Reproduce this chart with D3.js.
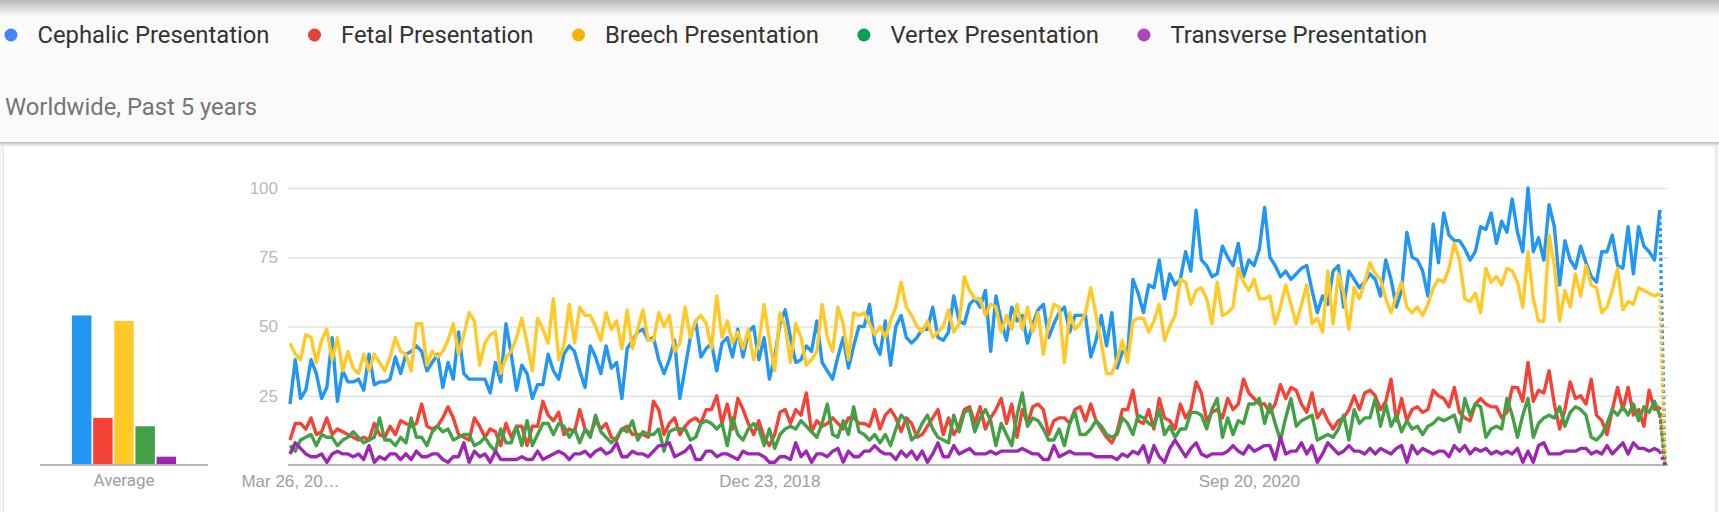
<!doctype html>
<html lang="en">
<head>
<meta charset="utf-8">
<title>Presentation search interest</title>
<script src="https://cdnjs.cloudflare.com/ajax/libs/d3/7.8.5/d3.min.js"></script>
<style>
  body { margin:0; background:#fff; font-family:Roboto, "Noto Sans", sans-serif; }
  svg { display:block; }
  .ylab text { fill:#b8b8b8; font-size:17px; }
  .xlab text { fill:#9e9e9e; font-size:17px; }
  .grid line { stroke:#e3e3e3; stroke-width:1.5; }
</style>
</head>
<body>
<svg width="1719" height="512"></svg>
<script>
// series (Google Trends, weekly, Mar 26 2017 -> Mar 27 2022)
const names = ["Cephalic Presentation","Fetal Presentation","Breech Presentation","Vertex Presentation","Transverse Presentation"];
const dotColors = ["#4285f4","#db4437","#f4b400","#0f9d58","#ab47bc"];
const lineColors = ["#2196f3","#f44336","#ffca28","#43a047","#9c27b0"];
const averages = [54,17,52,14,3];
const startWeek = new Date(2017,2,26);
const yTicks = [25,50,75,100];
const xTickWeeks = [0,91,182];
const xTickLabels = ["Mar 26, 20\u2026","Dec 23, 2018","Sep 20, 2020"];

const cephalic = [
  22,38,24,27,38,33,24,28,46,23,34,30,30,31,27,40,29,30,30,31,39,33,40,41,43,41,34,37,40,28,37,31,48,33,31,31,
  31,31,26,37,30,51,40,27,36,33,24,29,29,40,34,31,40,43,41,34,28,43,39,33,43,35,37,24,42,45,48,49,45,46,38,33,38,45,24,35,46,52,39,42,44,34,
  44,46,39,49,39,48,50,38,46,31,39,51,56,46,37,38,43,41,52,37,34,31,39,46,35,43,50,50,58,44,40,52,36,50,54,46,44,46,49,49,57,46,45,48,61,52,
  51,58,60,57,63,41,61,52,45,57,52,54,44,51,56,58,46,51,55,57,48,54,54,54,39,45,54,43,55,35,41,40,67,62,55,65,64,74,60,69,65,67,77,70,92,
  74,72,68,69,79,75,72,80,68,74,72,78,93,75,72,68,70,67,69,71,72,63,55,61,58,70,72,57,70,67,64,66,69,67,61,74,67,57,63,84,75,74,70,61,87,73,
  91,83,81,81,78,74,77,86,85,91,80,88,84,96,84,77,100,77,82,74,94,86,65,81,74,71,79,73,68,66,77,77,83,72,71,86,69,86,79,77,74,92,0
];
const fetal = [
  9,15,15,13,17,11,12,17,11,13,12,11,10,9,10,9,15,11,10,14,11,16,15,14,15,22,14,13,14,17,21,17,11,10,9,17,
  14,10,13,12,7,15,10,14,14,7,14,14,23,18,16,19,11,13,12,20,13,11,16,13,15,10,9,13,14,11,11,11,10,23,20,11,15,17,11,14,16,17,15,20,20,25,
  15,22,13,24,20,15,11,16,10,7,11,19,20,15,20,18,26,12,16,14,15,17,15,13,17,17,15,15,14,20,13,18,20,17,12,17,15,10,11,14,17,20,11,17,11,14,
  20,21,15,21,13,17,20,24,15,22,10,20,15,21,22,20,11,16,17,17,15,20,21,16,22,16,13,10,8,12,20,20,27,16,15,20,13,24,17,16,13,22,17,20,30,
  26,16,19,20,17,24,20,22,31,26,24,22,22,19,22,29,24,28,27,22,19,26,17,20,16,13,16,17,20,25,20,26,27,25,20,23,31,16,24,16,20,21,19,20,27,25,
  24,21,28,19,17,16,22,24,22,21,21,17,19,28,28,23,37,23,27,26,34,22,13,20,30,24,25,22,31,18,16,11,20,28,20,28,18,20,14,27,20,21,0
];
const breech = [
  44,40,38,47,46,37,45,49,38,46,34,41,35,33,40,34,40,37,34,39,46,41,40,34,51,51,36,41,39,41,45,51,40,47,55,52,
  36,44,47,48,33,39,41,46,53,44,34,53,49,44,60,38,43,58,44,57,54,54,50,45,55,49,52,42,56,42,49,56,45,45,55,50,54,41,44,57,46,52,54,51,42,61,
  46,52,44,48,42,49,38,44,58,45,34,55,50,37,51,46,36,38,41,58,46,41,57,51,38,55,54,55,51,47,50,46,52,57,66,57,54,50,48,52,46,48,50,56,48,51,
  68,63,60,60,54,58,57,48,54,49,58,49,57,48,55,40,51,58,57,37,55,49,51,55,64,54,44,33,33,38,45,37,52,53,53,48,52,58,45,50,54,67,66,58,63,
  64,60,51,66,54,55,57,71,66,63,67,60,60,61,51,57,65,58,51,58,65,51,53,48,70,51,69,62,49,64,60,66,73,69,67,60,55,61,66,57,55,57,54,58,64,67,
  66,71,80,74,60,59,62,55,71,66,68,65,71,70,66,57,77,60,52,52,83,72,52,63,57,69,61,72,65,64,55,57,63,71,56,59,58,64,63,62,61,62,0
];
const vertex = [
  7,5,9,10,11,7,11,10,10,7,9,10,12,10,8,9,10,17,9,9,7,10,8,17,10,10,7,12,14,12,13,9,10,11,11,7,
  8,10,7,5,13,8,8,14,7,16,7,11,15,15,11,15,14,10,13,8,13,10,18,12,10,8,10,13,12,16,9,12,11,11,13,5,12,13,13,13,9,10,15,16,15,13,
  15,7,17,11,9,13,15,13,7,13,6,11,13,14,13,16,14,12,10,15,22,11,10,16,11,21,12,11,9,11,8,11,7,13,18,16,9,11,15,18,13,10,9,8,18,12,
  19,20,12,17,20,16,7,15,11,7,18,26,14,17,16,13,9,9,13,7,15,19,11,11,13,16,14,11,10,11,17,15,11,18,17,15,14,20,11,14,10,13,13,19,19,
  18,13,20,24,10,17,11,16,15,22,22,24,15,22,15,9,17,24,14,16,17,18,9,10,11,10,13,18,9,20,15,17,17,24,14,22,14,18,12,16,13,14,11,14,15,17,
  16,17,18,12,24,18,22,21,10,13,14,13,24,18,10,18,24,10,15,17,18,17,21,14,19,21,20,18,10,9,11,15,20,18,21,18,22,16,21,19,23,18,0
];
const transverse = [
  4,8,6,4,3,3,4,1,4,5,4,4,3,4,2,7,1,3,2,4,4,2,4,2,5,3,3,4,4,2,1,3,3,8,1,5,
  3,4,1,5,2,2,2,2,3,2,2,5,2,3,4,5,4,2,4,4,5,3,5,6,4,5,8,3,3,5,4,4,3,5,7,7,8,3,4,5,7,2,2,5,5,3,
  4,4,3,2,5,4,4,4,3,1,1,3,3,2,8,3,5,1,4,4,3,5,6,1,5,3,3,5,5,7,5,4,4,2,5,3,5,2,5,1,4,8,3,3,7,4,
  5,6,4,4,4,5,4,5,5,5,5,6,5,4,4,2,2,7,3,4,5,4,4,4,4,3,3,3,3,2,4,3,5,4,7,1,7,3,1,6,9,6,3,6,8,
  4,3,4,4,4,5,7,5,4,7,5,6,7,7,2,10,4,5,5,8,4,7,1,4,8,6,4,5,7,5,5,4,6,4,6,5,4,6,7,1,7,4,6,5,4,5,
  5,3,7,5,7,4,6,5,6,4,5,4,5,4,6,1,5,1,7,8,4,4,4,5,5,5,6,6,4,5,4,7,4,6,8,4,8,6,6,5,6,5,0
];
const seriesValues = [cephalic, fetal, breech, vertex, transverse];

const svg = d3.select("svg");
const W = 1719, H = 512;

// ---- backgrounds ----
const defs = svg.append("defs");
const g1 = defs.append("linearGradient").attr("id","topShade").attr("x1",0).attr("x2",0).attr("y1",0).attr("y2",1);
g1.append("stop").attr("offset","0%").attr("stop-color","#b9b9b9");
g1.append("stop").attr("offset","100%").attr("stop-color","#fafafa");
const g2 = defs.append("linearGradient").attr("id","cardShade").attr("x1",0).attr("x2",0).attr("y1",0).attr("y2",1);
g2.append("stop").attr("offset","0%").attr("stop-color","#bdbdbd");
g2.append("stop").attr("offset","100%").attr("stop-color","#ffffff");

svg.append("rect").attr("width",W).attr("height",H).attr("fill","#f4f4f4");
svg.append("rect").attr("width",W).attr("height",143).attr("fill","#fafafa");
svg.append("rect").attr("width",W).attr("height",16).attr("fill","url(#topShade)");
svg.append("rect").attr("x",4).attr("y",143).attr("width",1711).attr("height",H-143).attr("fill","#fff");
svg.append("rect").attr("x",0).attr("y",142).attr("width",W).attr("height",5).attr("fill","url(#cardShade)");
svg.append("line").attr("x1",3.5).attr("x2",3.5).attr("y1",146).attr("y2",H).attr("stroke","#e3e3e3");
svg.append("line").attr("x1",1715.5).attr("x2",1715.5).attr("y1",146).attr("y2",H).attr("stroke","#e3e3e3");

// ---- legend ----
const legend = svg.append("g").attr("class","legend");
let lx = 11;
names.forEach((n,i)=>{
  legend.append("circle").attr("cx",lx).attr("cy",35).attr("r",6.5).attr("fill",dotColors[i]);
  const t = legend.append("text").attr("x",lx+26.5).attr("y",35).attr("dy","0.35em")
    .style("font-size","23.8px").style("fill","#333").text(n);
  lx = lx + 26.5 + t.node().getComputedTextLength() + 45;
});
svg.append("text").attr("x",5).attr("y",107).attr("dy","0.35em")
  .style("font-size","23.8px").style("fill","#757575").text("Worldwide, Past 5 years");

// ---- scales ----
const dates = cephalic.map((d,i)=>d3.timeWeek.offset(startWeek,i));
const x = d3.scaleTime().domain([dates[0], dates[dates.length-1]]).range([290,1665]);
const y = d3.scaleLinear().domain([0,100]).range([465,188]);

// ---- gridlines + y labels ----
const yAxis = d3.axisLeft(y).tickValues(yTicks).tickSize(-(1668-288)).tickPadding(10);
svg.append("g").attr("class","grid ylab").attr("transform","translate(288,0)")
  .call(yAxis).call(g=>g.select(".domain").remove());
svg.append("line").attr("x1",288).attr("x2",1668).attr("y1",y(0)).attr("y2",y(0))
  .attr("stroke","#9e9e9e").attr("stroke-width",1.5);

// ---- x labels ----
const xAxis = d3.axisBottom(x).tickValues(xTickWeeks.map(w=>dates[w]))
  .tickFormat((d,i)=>xTickLabels[i]).tickSize(0).tickPadding(10);
svg.append("g").attr("class","xlab").attr("transform",`translate(0,${y(0)})`)
  .call(xAxis).call(g=>g.select(".domain").remove());

// ---- lines ----
const line = d3.line().x(d=>x(d.date)).y(d=>y(d.v)).curve(d3.curveLinear);
const lines = svg.append("g").attr("fill","none").attr("stroke-width",3.4).attr("stroke-linejoin","round");
seriesValues.forEach((vals,i)=>{
  const pts = vals.map((v,j)=>({date:dates[j], v:v}));
  const n = pts.length;
  lines.append("path").datum(pts.slice(0,n-1)).attr("d",line).attr("stroke",lineColors[i]);
  lines.append("path").datum(pts.slice(n-2)).attr("d",line).attr("stroke",lineColors[i])
    .attr("stroke-dasharray","3,3");
});

// ---- average bars ----
const xb = d3.scaleBand().domain(names).range([72,176]).paddingInner(0.08);
svg.append("g").selectAll("rect").data(averages).enter().append("rect")
  .attr("x",(d,i)=>xb(names[i])).attr("width",xb.bandwidth())
  .attr("y",d=>y(d)).attr("height",d=>y(0)-1-y(d))
  .attr("fill",(d,i)=>lineColors[i]);
svg.append("line").attr("x1",40).attr("x2",208).attr("y1",y(0)).attr("y2",y(0))
  .attr("stroke","#9e9e9e").attr("stroke-width",1.5);
svg.append("text").attr("x",124).attr("y",480).attr("dy","0.35em").attr("text-anchor","middle")
  .style("font-size","17px").style("fill","#9e9e9e").text("Average");
</script>
</body>
</html>
